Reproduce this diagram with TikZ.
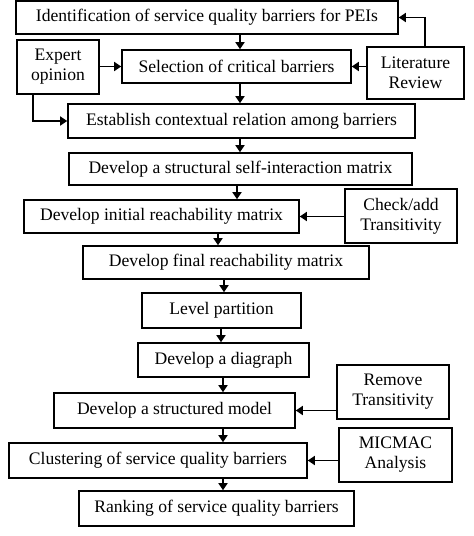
\documentclass[tikz,border=0pt]{standalone}
\usepackage{fontspec}
\setmainfont{Liberation Serif}
\usetikzlibrary{arrows.meta}
\tikzset{sz/.style 2 args={minimum width=#1,minimum height=#2},
	stepfont/.style={font=\fontsize{17.6}{20}\selectfont}}

\begin{document}
\begin{tikzpicture}[x=1pt,y=-1pt]
		\useasboundingbox (0,0) rectangle (474,536);
		\begin{scope}[every node/.style={rectangle,draw,line width=1.6pt,inner sep=0pt,align=center,stepfont}]
			\node[sz={382pt}{33pt}] (A) at (207,17.5) {Identification of service quality barriers for PEIs};
			\node[sz={97pt}{52pt}] (L) at (415.5,73) {Literature\\Review};
			\node[sz={82pt}{54pt}] (X) at (58,67) {Expert\\opinion};
			\node[sz={229pt}{33pt}] (B) at (236.5,66.5) {Selection of critical barriers};
			\node[sz={347pt}{34pt}] (C) at (241.5,121) {Establish contextual relation among barriers};
			\node[sz={343pt}{32pt}] (D) at (240.5,169) {Develop a structural self-interaction matrix};
			\node[sz={275pt}{33pt}] (E) at (161.5,216.5) {Develop initial reachability matrix};
			\node[sz={112pt}{54pt}] (T) at (401,216) {Check/add\\Transitivity};
			\node[sz={286pt}{33pt}] (F) at (226,262.5) {Develop final reachability matrix};
			\node[sz={159pt}{35pt}] (G) at (221.5,310.5) {Level partition};
			\node[sz={171pt}{34pt}] (H) at (223.5,360) {Develop a diagraph};
			\node[sz={241pt}{35pt}] (I) at (174.5,410.5) {Develop a structured model};
			\node[sz={112pt}{54pt}] (R) at (393,392) {Remove\\Transitivity};
			\node[sz={298pt}{35pt}] (J) at (158,460.5) {Clustering of service quality barriers};
			\node[sz={113pt}{54pt}] (M) at (395.5,455) {MICMAC\\Analysis};
			\node[sz={275pt}{35pt}] (K) at (216.5,508.5) {Ranking of service quality barriers};
		\end{scope}
		\begin{scope}[>={Triangle[length=7pt,width=9pt]},
			line width=1.6pt]
			\foreach \a/\b/\x in {A/B/240,B/C/240,C/D/240,D/E/237,E/F/218,F/G/224,G/H/221,H/I/223,I/J/223,J/K/223}
			{
				\coordinate (c) at (\x,0);
				\draw[->] (\a.south -| c) -- (\b.north -| c);
			}
			\draw[->] (X.east |- B) -- (B.west);
			\draw[->] (L.west |- B) -- (B.east);
			\draw[->] ([xshift=9.5pt]L.north) |- (A.east);
			\draw[->] ([xshift=-25pt]X.south) |- (C.west);
			\draw[->] (T.west |- E) -- (E.east);
			\draw[->] (R.west |- I) -- (I.east);
			\draw[->] (M.west |- J) -- (J.east);
		\end{scope}
	\end{tikzpicture}
\end{document}
